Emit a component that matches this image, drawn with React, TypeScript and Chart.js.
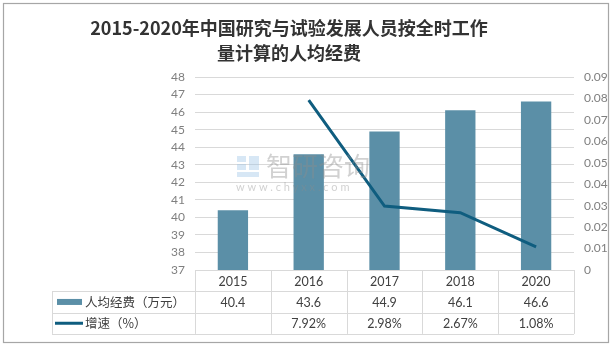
import React, { useEffect, useRef } from "react";
import { Chart, registerables } from "chart.js";

Chart.register(...registerables);

const categories = ["2015", "2016", "2017", "2018", "2020"];
const perCapita = [40.4, 43.6, 44.9, 46.1, 46.6];
const growth: (number | null)[] = [null, 0.0792, 0.0298, 0.0267, 0.0108];
const perCapitaLabels = ["40.4", "43.6", "44.9", "46.1", "46.6"];
const growthLabels = ["", "7.92%", "2.98%", "2.67%", "1.08%"];
const barLabel = "人均经费（万元）";
const lineLabel = "增速（%）";
const titleLines = ["2015-2020年中国研究与试验发展人员按全时工作", "量计算的人均经费"];
const watermarkName = "智研咨询";
const watermarkUrl = "w w w . c h y x x . c o m";

const BAR = "#5B8FA7";
const LINE = "#0F5D7F";
const GRID = "#D9D9D9";
const TEXT = "#404040";
const TICK = "#7F7F7F";
const NUMFONT = "Lato, 'Noto Sans CJK SC', sans-serif";
const CJKFONT = "'Noto Sans CJK SC', sans-serif";

const decorPlugin = {
  id: "decor",
  beforeDraw(chart: any) {
    const { ctx, width, height } = chart;
    ctx.save();
    ctx.fillStyle = "#ffffff";
    ctx.fillRect(0, 0, width, height);
    ctx.strokeStyle = "#A6A6A6";
    ctx.lineWidth = 1.2;
    ctx.strokeRect(3.5, 3.5, width - 8, height - 8);
    ctx.restore();
  },
  afterDatasetsDraw(chart: any) {
    const { ctx } = chart;
    ctx.save();
    ctx.globalAlpha = 0.4;
    ctx.fillStyle = "#9CC3E6";
    ctx.fillRect(237, 156, 9, 6);
    ctx.fillRect(237, 164, 9, 6);
    ctx.fillRect(237, 172, 22, 5);
    ctx.fillRect(249, 156, 10, 14);
    ctx.globalAlpha = 0.4;
    ctx.fillStyle = "#8C8C8C";
    ctx.font = "26px " + CJKFONT;
    ctx.textBaseline = "middle";
    ctx.textAlign = "left";
    ctx.fillText(watermarkName, 266, 166);
    ctx.font = "11px " + NUMFONT;
    ctx.fillText(watermarkUrl, 236, 187);
    ctx.restore();
  },
  afterDraw(chart: any) {
    const { ctx, chartArea } = chart;
    const x = chart.scales.x;
    ctx.save();
    ctx.fillStyle = "#333333";
    ctx.font = "bold 18px " + CJKFONT;
    ctx.textAlign = "center";
    ctx.textBaseline = "middle";
    ctx.fillText(titleLines[0], 289, 28);
    ctx.fillText(titleLines[1], 289, 53);

    const n = categories.length;
    const colW = (chartArea.right - chartArea.left) / n;
    const top = chartArea.bottom;
    const rowH = 21.3;
    const legLeft = 52;
    const L = chartArea.left;
    const R = chartArea.right;
    ctx.strokeStyle = GRID;
    ctx.lineWidth = 1;
    const hline = (y: number, x0: number, x1: number) => {
      ctx.beginPath();
      ctx.moveTo(x0, Math.round(y) + 0.5);
      ctx.lineTo(x1, Math.round(y) + 0.5);
      ctx.stroke();
    };
    const vline = (xx: number, y0: number, y1: number) => {
      ctx.beginPath();
      ctx.moveTo(Math.round(xx) + 0.5, y0);
      ctx.lineTo(Math.round(xx) + 0.5, y1);
      ctx.stroke();
    };
    hline(top, L, R);
    hline(top + rowH, legLeft, R);
    hline(top + 2 * rowH, legLeft, R);
    hline(top + 3 * rowH, legLeft, R);
    vline(legLeft, top + rowH, top + 3 * rowH);
    for (let i = 0; i <= n; i++) {
      vline(L + i * colW, top, top + 3 * rowH);
    }
    ctx.fillStyle = TEXT;
    ctx.font = "12.5px " + NUMFONT;
    ctx.textAlign = "center";
    for (let i = 0; i < n; i++) {
      const cx = x.getPixelForValue(i);
      ctx.fillText(categories[i], cx, top + rowH / 2 + 1);
      ctx.fillText(perCapitaLabels[i], cx, top + rowH * 1.5 + 1);
      ctx.fillText(growthLabels[i], cx, top + rowH * 2.5 + 1);
    }
    ctx.fillStyle = BAR;
    ctx.fillRect(57, top + rowH * 1.5 - 3, 25, 6);
    ctx.strokeStyle = LINE;
    ctx.lineWidth = 3;
    ctx.beginPath();
    ctx.moveTo(55, top + rowH * 2.5);
    ctx.lineTo(83, top + rowH * 2.5);
    ctx.stroke();
    ctx.fillStyle = TEXT;
    ctx.font = "12.5px " + CJKFONT;
    ctx.textAlign = "left";
    ctx.fillText(barLabel, 85, top + rowH * 1.5);
    ctx.fillText(lineLabel, 85, top + rowH * 2.5);
    ctx.restore();
  },
};

export default function App() {
  const ref = useRef<HTMLCanvasElement | null>(null);
  useEffect(() => {
    document.body.style.margin = "0";
    const canvas = ref.current;
    if (!canvas) return;
    const chart = new Chart(canvas, {
      type: "bar",
      data: {
        labels: categories,
        datasets: [
          {
            type: "line",
            label: lineLabel,
            data: growth as any,
            yAxisID: "y1",
            borderColor: LINE,
            backgroundColor: LINE,
            borderWidth: 3,
            pointRadius: 0,
            tension: 0,
            order: 0,
          } as any,
          {
            type: "bar",
            label: barLabel,
            data: perCapita,
            yAxisID: "y",
            backgroundColor: BAR,
            barPercentage: 0.4,
            categoryPercentage: 1,
            order: 1,
          },
        ],
      },
      options: {
        responsive: false,
        animation: false,
        devicePixelRatio: 1,
        layout: { padding: { top: 77, bottom: 77, left: 0, right: 0 } },
        plugins: {
          legend: { display: false },
          tooltip: { enabled: false },
          title: { display: false },
        },
        scales: {
          x: { display: false, offset: true },
          y: {
            position: "left",
            min: 37,
            max: 48,
            ticks: {
              stepSize: 1,
              color: TICK,
              font: { size: 12, family: NUMFONT },
              padding: 10,
            },
            grid: { color: GRID, drawTicks: false },
            border: { display: false },
            afterFit: (s: any) => {
              s.width = 195;
            },
          },
          y1: {
            position: "right",
            min: 0,
            max: 0.09,
            ticks: {
              stepSize: 0.01,
              color: TICK,
              font: { size: 12, family: NUMFONT },
              padding: 10,
              callback: (v: any) => String(Number(Number(v).toFixed(2))),
            },
            grid: { display: false, drawTicks: false },
            border: { display: false },
            afterFit: (s: any) => {
              s.width = 39;
            },
          },
        },
      } as any,
      plugins: [decorPlugin],
    });
    return () => chart.destroy();
  }, []);
  return (
    <div style={{ width: 613, height: 347 }}>
      <canvas ref={ref} width={613} height={347} style={{ display: "block" }} />
    </div>
  );
}
